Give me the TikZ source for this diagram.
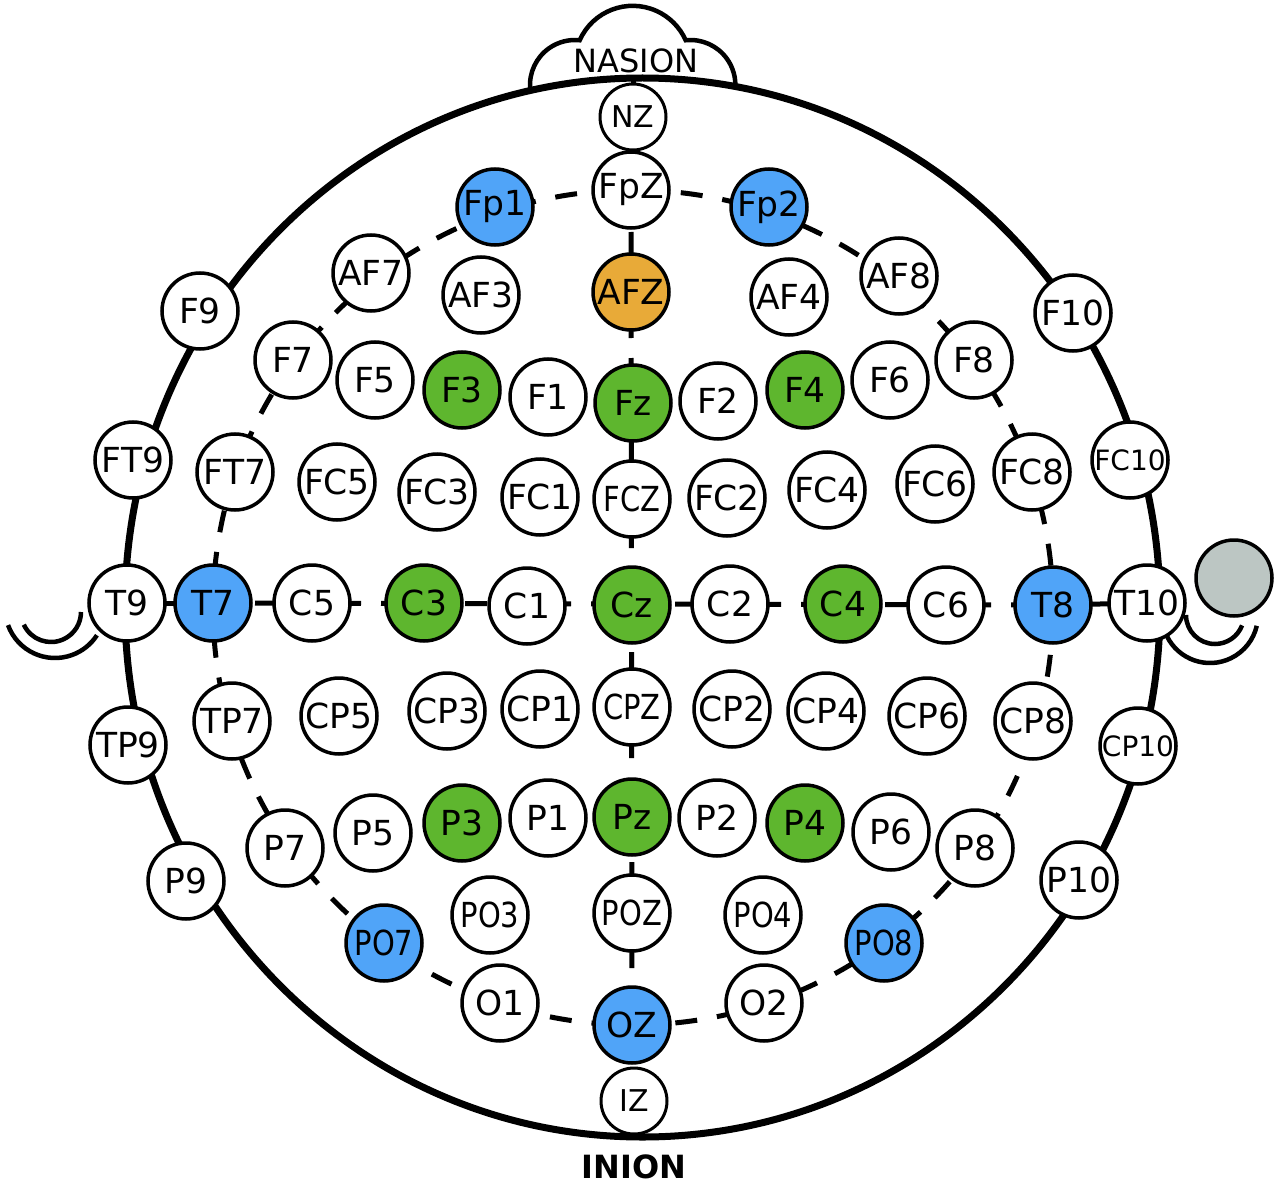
\documentclass[tikz,border=0pt]{standalone}
\usepackage{fontspec}
\setmainfont{DejaVu Sans}
\definecolor{eblue}{RGB}{80,164,248}
\definecolor{egreen}{RGB}{94,182,46}
\definecolor{eorange}{RGB}{232,170,56}
\definecolor{egrey}{RGB}{188,198,195}
\pgfdeclarelayer{back}
\pgfsetlayers{back,main}
\tikzset{
  el/.style={circle, draw=black, line width=3.5pt, fill=white, minimum size=76pt, inner sep=0pt, font=\fontsize{34.5}{34.5}\selectfont},
  bnode/.style={el, fill=eblue},
  gnode/.style={el, fill=egreen},
  onode/.style={el, fill=eorange},
  smnode/.style={el, minimum size=66pt, line width=3pt, font=\fontsize{30}{30}\selectfont},
  tnode/.style={el, font=\fontsize{28}{28}\selectfont},
  dashline/.style={line width=5pt, dash pattern=on 22pt off 20pt},
  solidline/.style={line width=5pt},
  headline/.style={line width=7pt},
  earline/.style={line width=4.5pt},
  lbl/.style={inner sep=0pt, font=\fontsize{32}{32}\selectfont}
}
\newcommand{\sq}[1]{\scalebox{0.84}[1]{#1}}
\begin{document}
\begin{tikzpicture}[x=1pt,y=1pt]
\useasboundingbox (0,-1185) rectangle (1280,0);

% electrodes
\node[smnode] (NZ) at (633,-117) {NZ};
\node[el] (FpZ) at (631,-190) {FpZ};
\node[bnode] (Fp1) at (495,-207) {Fp1};
\node[bnode] (Fp2) at (769,-207) {Fp2};
\node[el] (AF7) at (371,-273) {AF7};
\node[el] (AF3) at (481,-295) {AF3};
\node[onode] (AFZ) at (631,-292) {AFZ};
\node[el] (AF4) at (789,-297) {AF4};
\node[el] (AF8) at (899,-276) {AF8};
\node[el] (F9) at (200,-311) {F9};
\node[el] (F10) at (1073,-313) {F10};
\node[el] (F7) at (293,-360) {F7};
\node[el] (F5) at (375,-380) {F5};
\node[gnode] (F3) at (462,-390) {F3};
\node[el] (F1) at (548,-397) {F1};
\node[gnode] (Fz) at (633,-403) {Fz};
\node[el] (F2) at (718,-401) {F2};
\node[gnode] (F4) at (805,-390) {F4};
\node[el] (F6) at (890,-380) {F6};
\node[el] (F8) at (974,-360) {F8};
\node[el] (FT9) at (133,-460) {FT9};
\node[el] (FT7) at (235,-472) {FT7};
\node[el] (FC5) at (337,-482) {FC5};
\node[el] (FC3) at (437,-492) {FC3};
\node[el] (FC1) at (540,-497) {FC1};
\node[el] (FCZ) at (632,-499) {\sq{FCZ}};
\node[el] (FC2) at (727,-498) {FC2};
\node[el] (FC4) at (827,-490) {FC4};
\node[el] (FC6) at (935,-484) {FC6};
\node[el] (FC8) at (1032,-472) {FC8};
\node[tnode] (FC10) at (1130,-460) {FC10};
\node[el] (T9) at (127,-603) {T9};
\node[bnode] (T7) at (213,-603) {T7};
\node[el] (C5) at (312,-603) {C5};
\node[gnode] (C3) at (424,-603) {C3};
\node[el] (C1) at (527,-606) {C1};
\node[gnode] (Cz) at (632,-605) {Cz};
\node[el] (C2) at (730,-604) {C2};
\node[gnode] (C4) at (843,-604) {C4};
\node[el] (C6) at (946,-605) {C6};
\node[bnode] (T8) at (1053,-605) {T8};
\node[el] (T10) at (1147,-603) {T10};
\node[el] (TP9) at (128,-745) {TP9};
\node[el] (TP7) at (232,-721) {TP7};
\node[el] (CP5) at (339,-716) {CP5};
\node[el] (CP3) at (447,-711) {CP3};
\node[el] (CP1) at (540,-709) {CP1};
\node[el] (CPZ) at (632,-707) {\sq{CPZ}};
\node[el] (CP2) at (732,-709) {CP2};
\node[el] (CP4) at (826,-711) {CP4};
\node[el] (CP6) at (927,-716) {CP6};
\node[el] (CP8) at (1033,-721) {CP8};
\node[tnode] (CP10) at (1138,-746) {CP10};
\node[el] (P7) at (285,-848) {P7};
\node[el] (P5) at (373,-833) {P5};
\node[gnode] (P3) at (462,-823) {P3};
\node[el] (P1) at (548,-818) {P1};
\node[gnode] (Pz) at (632,-817) {Pz};
\node[el] (P2) at (717,-818) {P2};
\node[gnode] (P4) at (805,-823) {P4};
\node[el] (P6) at (891,-832) {P6};
\node[el] (P8) at (975,-848) {P8};
\node[el] (P9) at (186,-881) {P9};
\node[el] (P10) at (1079,-880) {P10};
\node[bnode] (PO7) at (384,-943) {\sq{PO7}};
\node[el] (PO3) at (490,-915) {\sq{PO3}};
\node[el] (POZ) at (632,-913) {\sq{POZ}};
\node[el] (PO4) at (763,-915) {\sq{PO4}};
\node[bnode] (PO8) at (884,-943) {\sq{PO8}};
\node[el] (O1) at (500,-1003) {O1};
\node[bnode] (OZ) at (632,-1025) {OZ};
\node[el] (O2) at (764,-1003) {O2};
\node[smnode] (IZ) at (634,-1101) {IZ};

% grey ear marker
\node[el, fill=egrey, minimum size=76pt] (ear) at (1234,-578) {};

% labels
\node[lbl] (nasion) at (636,-61) {NASION};
\node[lbl, font=\fontsize{32}{32}\selectfont\bfseries] (inion) at (634,-1167) {INION};

\coordinate (headtop) at (633,-78);

\begin{pgfonlayer}{back}
  % nasion bump
  \draw[line width=4.5pt, fill=white] (575,-85) ++(185:45) arc[start angle=185, end angle=84, radius=45]
     arc[start angle=156, end angle=24, radius=58]
     arc[start angle=96, end angle=-5, radius=45];
  % head
  \draw[headline] (642.5,-607.5) ellipse[x radius=517.5, y radius=529.5];
  % ears
  \draw[earline] (55,-608) ++(200:50) arc[start angle=200, end angle=327, radius=50];
  \draw[earline] (51,-612) ++(205:30) arc[start angle=205, end angle=360, radius=30];
  \draw[earline] (1215,-615) ++(180:29) arc[start angle=180, end angle=339, radius=29];
  \draw[earline] (1210,-615) ++(206:48) arc[start angle=206, end angle=347, radius=48];
  % inner dashed circle and cross
  \draw[dashline] (633,-607.5) ellipse[x radius=420, y radius=417.5];
  \draw[dashline] (T7.center) -- (T8.center);
  \draw[dashline] (FpZ.center) -- (OZ.center);
  \draw[solidline] (T9.center) -- (T7.center);
  \draw[solidline] (T8.center) -- (T10.center);
  \draw[solidline] (headtop) -- (NZ.center);
\end{pgfonlayer}
\end{tikzpicture}
\end{document}
